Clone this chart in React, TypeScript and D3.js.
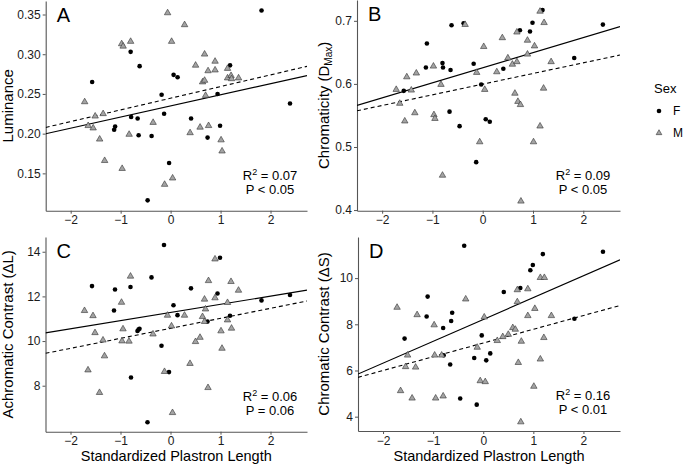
import React, { useEffect, useRef } from "react";
import * as d3 from "d3";

// standardized plastron length, one entry per turtle
const femaleX = [-1.57, -1.13, -1.11, -0.8, -0.79, -0.66, -0.64, -0.62, -0.46, -0.38, -0.18, -0.13, -0.03, 0.06, 0.14, 0.41, 0.74, 0.94, 0.99, 1.19, 1.82, 2.39];
const maleX = [-1.72, -1.65, -1.55, -1.51, -1.42, -1.35, -1.32, -0.98, -0.97, -0.95, -0.83, -0.8, -0.35, -0.12, -0.06, 0.02, 0.04, 0.28, 0.39, 0.5, 0.59, 0.64, 0.68, 0.68, 0.7, 0.75, 0.76, 0.89, 0.89, 1.01, 1.03, 1.14, 1.14, 1.21, 1.22, 1.36];

// A - luminance
const femaleLum = [0.265, 0.205, 0.209, 0.303, 0.221, 0.219, 0.198, 0.285, 0.116, 0.197, 0.249, 0.225, 0.163, 0.274, 0.271, 0.219, 0.195, 0.25, 0.21, 0.286, 0.355, 0.238];
const maleLum = [0.24, 0.21, 0.207, 0.222, 0.193, 0.225, 0.166, 0.313, 0.156, 0.31, 0.199, 0.316, 0.214, 0.136, 0.352, 0.316, 0.144, 0.337, 0.201, 0.286, 0.208, 0.265, 0.3, 0.267, 0.248, 0.279, 0.21, 0.291, 0.28, 0.192, 0.178, 0.282, 0.27, 0.273, 0.269, 0.27];

// B - chromaticity (D max)
const femaleChroma = [0.589, 0.626, 0.664, 0.633, 0.626, 0.556, 0.622, 0.693, 0.533, 0.696, 0.632, 0.476, 0.599, 0.544, 0.54, 0.624, 0.685, 0.683, 0.697, 0.717, 0.641, 0.694];
const maleChroma = [0.591, 0.569, 0.541, 0.611, 0.59, 0.554, 0.617, 0.628, 0.551, 0.545, 0.599, 0.455, 0.694, 0.618, 0.508, 0.659, 0.591, 0.619, 0.673, 0.641, 0.631, 0.585, 0.682, 0.635, 0.572, 0.567, 0.414, 0.669, 0.647, 0.508, 0.66, 0.533, 0.715, 0.593, 0.697, 0.635];

// C - achromatic contrast (dL)
const femaleAchrom = [12.46, 11.37, 12.31, 12.42, 8.37, 10.45, 10.52, 10.55, 6.36, 12.85, 9.79, 14.3, 8.61, 11.6, 11.16, 12.36, 10.87, 12.13, 13.73, 11.13, 11.82, 12.06];
const maleAchrom = [11.36, 8.7, 11.13, 10.37, 7.69, 10.04, 9.33, 11.73, 10.0, 10.54, 9.99, 12.9, 10.31, 8.63, 11.15, 10.67, 6.79, 11.15, 8.99, 9.97, 10.16, 11.09, 10.87, 11.87, 11.43, 7.91, 12.7, 13.67, 11.93, 10.45, 9.67, 11.72, 10.94, 12.66, 10.57, 12.27];

// D - chromatic contrast (dS)
const femaleChromC = [7.38, 8.34, 9.2, 7.84, 6.66, 6.26, 8.14, 8.5, 4.79, 11.4, 6.54, 4.52, 7.52, 6.44, 6.74, 9.4, 9.57, 10.34, 10.57, 11.04, 8.24, 11.14];
const maleChromC = [8.73, 5.12, 6.16, 6.66, 4.8, 6.14, 8.41, 7.97, 6.66, 4.8, 6.66, 4.89, 9.09, 7.0, 5.55, 8.31, 5.51, 7.29, 7.46, 7.56, 7.85, 7.78, 9.49, 8.97, 6.34, 3.77, 7.26, 9.53, 8.37, 5.31, 8.68, 6.49, 10.02, 7.42, 10.02, 8.37];

// linear fits [intercept, slope] per panel A-D
const femaleFits = [[0.2349, 0.014], [0.6256, 0.0239], [11.28, 0.366], [8.21, 0.945]];
const maleFits = [[0.2446, 0.0147], [0.5996, 0.0169], [10.57, 0.448], [7.19, 0.595]];

const rSquared = ["0.07", "0.09", "0.06", "0.16"];
const pValues = ["P < 0.05", "P < 0.05", "P = 0.06", "P < 0.01"];

const xTicks = [-2, -1, 0, 1, 2];
const lumTicks = [0.15, 0.2, 0.25, 0.3, 0.35];
const chromaTicks = [0.4, 0.5, 0.6, 0.7];
const achromTicks = [8, 10, 12, 14];
const chromCTicks = [4, 6, 8, 10];

const FONT = "'Liberation Sans', Arial, Helvetica, sans-serif";
const xDomain = [-2.5, 2.73];

const panels = [
  { letter: "A", box: [45.7, 307, 1, 210.7], yDomain: [0.103, 0.367], ticks: lumTicks, fmt: ".2f", f: femaleLum, m: maleLum, title: ["Luminance"], titleX: 13, xTitle: false },
  { letter: "B", box: [357, 620, 0, 210.7], yDomain: [0.399, 0.733], ticks: chromaTicks, fmt: ".1f", f: femaleChroma, m: maleChroma, title: ["Chromaticity (D", "Max", ")"], titleX: 329, xTitle: false },
  { letter: "C", box: [45.5, 307, 237, 431.7], yDomain: [5.94, 14.66], ticks: achromTicks, fmt: "d", f: femaleAchrom, m: maleAchrom, title: ["Achromatic Contrast (ΔL)"], titleX: 13, xTitle: true },
  { letter: "D", box: [358, 620, 237, 431], yDomain: [3.38, 11.78], ticks: chromCTicks, fmt: "d", f: femaleChromC, m: maleChromC, title: ["Chromatic Contrast (ΔS)"], titleX: 329, xTitle: true },
];

const App = () => {
  const svgRef = useRef<SVGSVGElement>(null);

  useEffect(() => {
    const svg = d3.select(svgRef.current);
    svg.selectAll("*").remove();

    const triangle = d3.symbol().type(d3.symbolTriangle).size(18);

    panels.forEach((p, i) => {
      const [x0, x1, y0, y1] = p.box;
      const x = d3.scaleLinear().domain(xDomain).range([x0, x1]);
      const y = d3.scaleLinear().domain(p.yDomain).range([y1, y0]);

      const clipId = `clip-${p.letter}`;
      svg.append("clipPath").attr("id", clipId)
        .append("rect").attr("x", x0).attr("y", y0).attr("width", x1 - x0).attr("height", y1 - y0);

      const g = svg.append("g");

      // axes: left + bottom only
      const yAxis = g.append("g").attr("transform", `translate(${x0},0)`)
        .call(d3.axisLeft(y).tickValues(p.ticks).tickFormat(d3.format(p.fmt)).tickSize(3).tickPadding(2).tickSizeOuter(0));
      const xAxis = g.append("g").attr("transform", `translate(0,${y1})`)
        .call(d3.axisBottom(x).tickValues(xTicks).tickFormat(d3.format("d")).tickSize(3).tickPadding(2).tickSizeOuter(0));
      [yAxis, xAxis].forEach((a) => {
        a.select(".domain").attr("stroke", "#555").attr("stroke-width", 1.1);
        a.selectAll(".tick line").attr("stroke", "#555");
        a.selectAll(".tick text").attr("fill", "#1a1a1a").style("font-family", FONT).style("font-size", "12px");
      });

      // fitted lines, full x range
      const plot = g.append("g").attr("clip-path", `url(#${clipId})`);
      const fitLine = (fit: number[]) =>
        d3.line<number>().x((v) => x(v)).y((v) => y(fit[0] + fit[1] * v));
      plot.append("path").datum(xDomain).attr("d", fitLine(femaleFits[i]))
        .attr("fill", "none").attr("stroke", "#000").attr("stroke-width", 1.1);
      plot.append("path").datum(xDomain).attr("d", fitLine(maleFits[i]))
        .attr("fill", "none").attr("stroke", "#000").attr("stroke-width", 1.1).attr("stroke-dasharray", "4,3");

      // females
      plot.selectAll("circle.f").data(femaleX).join("circle")
        .attr("cx", (d) => x(d)).attr("cy", (_, j) => y(p.f[j]))
        .attr("r", 2.3).attr("fill", "#000");
      // males
      plot.selectAll("path.m").data(maleX).join("path")
        .attr("transform", (d, j) => `translate(${x(d)},${y(p.m[j])})`)
        .attr("d", triangle).attr("fill", "#a3a3a3").attr("stroke", "#333").attr("stroke-width", 0.6);

      // panel letter
      g.append("text").attr("x", x0 + 11).attr("y", y0 + 21)
        .style("font-family", FONT).style("font-size", "20px").attr("fill", "#000").text(p.letter);

      // stats
      const sx = x1 - 37;
      const st = g.append("text").attr("x", sx).attr("y", y1 - 31).attr("text-anchor", "middle")
        .style("font-family", FONT).style("font-size", "13px").attr("fill", "#000");
      st.append("tspan").text("R");
      st.append("tspan").attr("dy", -5).style("font-size", "9px").text("2");
      st.append("tspan").attr("dy", 5).text(` = ${rSquared[i]}`);
      g.append("text").attr("x", sx).attr("y", y1 - 17).attr("text-anchor", "middle")
        .style("font-family", FONT).style("font-size", "13px").attr("fill", "#000").text(pValues[i]);

      // y title
      const cy = (y0 + y1) / 2;
      const yt = g.append("text").attr("transform", `translate(${p.titleX},${cy}) rotate(-90)`)
        .attr("text-anchor", "middle").style("font-family", FONT).style("font-size", "15px").attr("fill", "#000");
      if (p.title.length === 1) {
        yt.text(p.title[0]);
      } else {
        yt.append("tspan").text(p.title[0]);
        yt.append("tspan").attr("dy", 3).style("font-size", "10px").text(p.title[1]);
        yt.append("tspan").attr("dy", -3).text(p.title[2]);
      }

      if (p.xTitle) {
        g.append("text").attr("x", (x0 + x1) / 2).attr("y", 460.5).attr("text-anchor", "middle")
          .style("font-family", FONT).style("font-size", "14.5px").attr("fill", "#000")
          .text("Standardized Plastron Length");
      }
    });

    // legend
    const lg = svg.append("g").style("font-family", FONT);
    lg.append("text").attr("x", 654).attr("y", 93).style("font-size", "13px").text("Sex");
    lg.append("circle").attr("cx", 659).attr("cy", 111).attr("r", 2.3).attr("fill", "#000");
    lg.append("text").attr("x", 673).attr("y", 115).style("font-size", "12px").text("F");
    lg.append("path").attr("transform", "translate(659,133)").attr("d", d3.symbol().type(d3.symbolTriangle).size(14))
      .attr("fill", "#a3a3a3").attr("stroke", "#333").attr("stroke-width", 0.6);
    lg.append("text").attr("x", 673).attr("y", 137).style("font-size", "12px").text("M");
  }, []);

  return (
    <svg ref={svgRef} width={685} height={464}
      style={{ position: "absolute", left: 0, top: 0, background: "#fff" }} />
  );
};

export default App;
